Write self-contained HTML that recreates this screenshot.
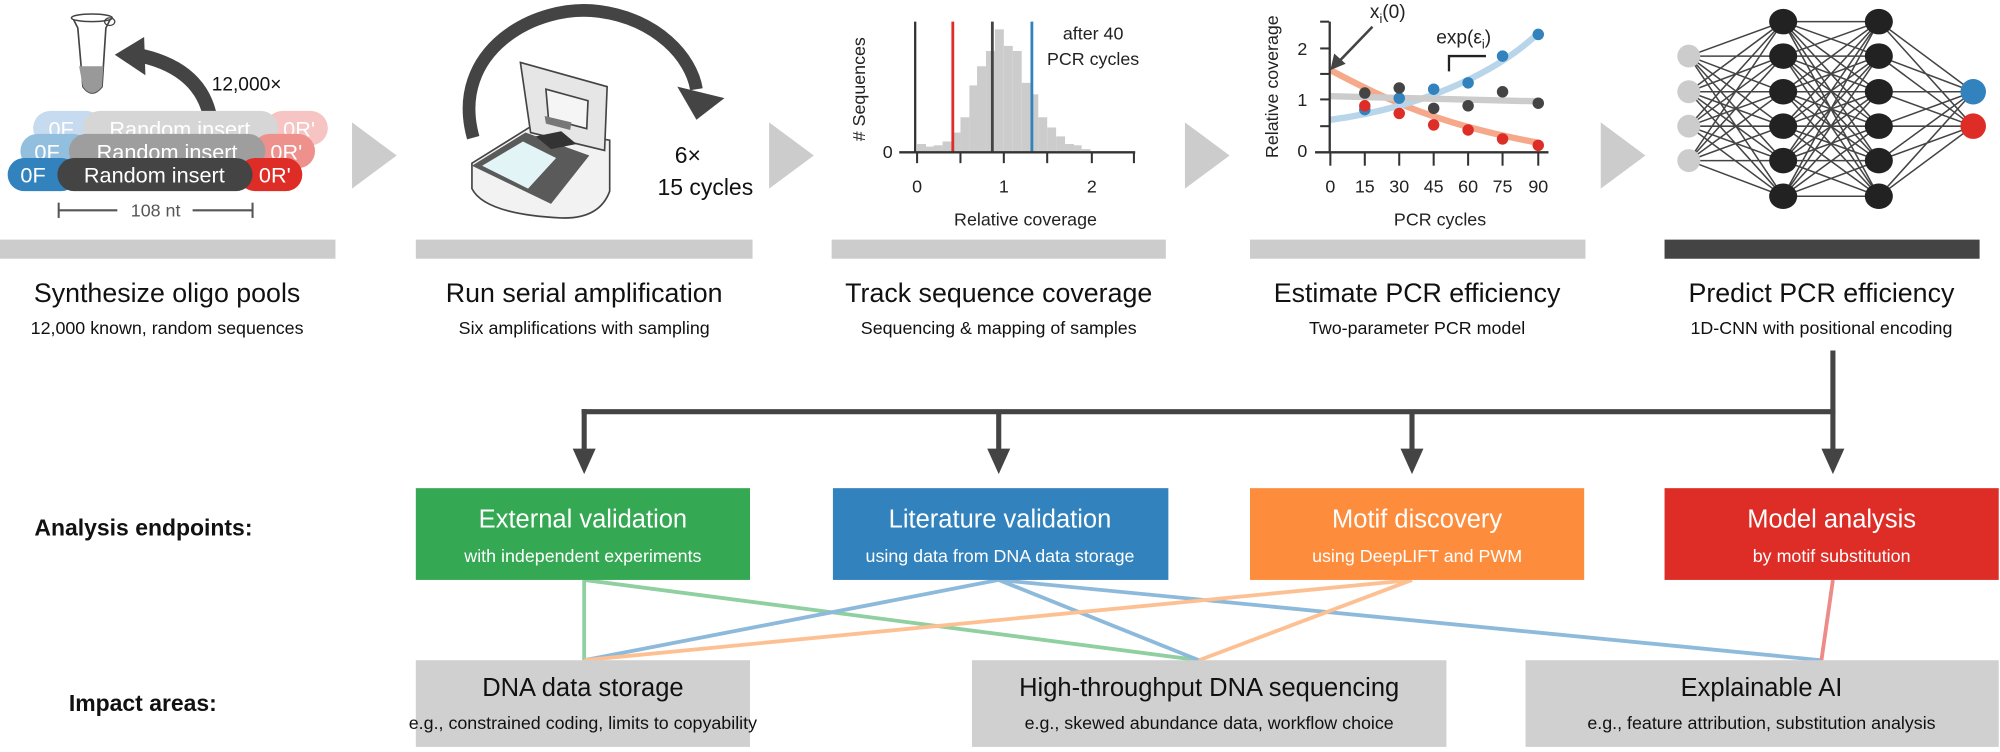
<!DOCTYPE html>
<html><head><meta charset="utf-8"><style>
html,body{margin:0;padding:0;background:#fff}
svg{display:block}
text{font-family:"Liberation Sans",Arial,sans-serif}
</style></head><body>
<svg width="2000" height="752" viewBox="0 0 1568 590" preserveAspectRatio="none" xmlns="http://www.w3.org/2000/svg">
<!-- Panel 1 -->
<g>
 <path d="M57,14 L87,14 L83,22 L80,68 Q72,78 65,68 L61,22 Z" fill="#fff" stroke="#444" stroke-width="1.3"/>
 <path d="M62,52 L81,52 L80,68 Q72,78 65,68 Z" fill="#999"/>
 <ellipse cx="72" cy="14" rx="16" ry="3" fill="#fff" stroke="#444" stroke-width="1.2"/>
 <ellipse cx="86" cy="17" rx="4" ry="3" fill="none" stroke="#444" stroke-width="1"/>
 <path d="M165,93 Q158,55 112,44" fill="none" stroke="#444" stroke-width="11"/>
 <polygon points="113,29 90,43 114,59" fill="#444"/>
 <text x="166" y="71" font-size="15" fill="#111">12,000×</text>
 <rect x="26" y="87" width="55" height="27" rx="13.5" fill="#c6dbef"/>
 <rect x="208" y="87" width="49" height="27" rx="13.5" fill="#f6c5c3"/>
 <rect x="65" y="87" width="153" height="27" rx="13.5" fill="#d6d6d6"/>
 <text x="38" y="107" font-size="17" fill="#fff">0F</text>
 <text x="141" y="107" font-size="17" fill="#fff" text-anchor="middle">Random insert</text>
 <text x="222" y="107" font-size="17" fill="#fff">0R'</text>
 <rect x="16" y="105" width="55" height="27" rx="13.5" fill="#93bfdf"/>
 <rect x="198" y="105" width="49" height="27" rx="13.5" fill="#ee908c"/>
 <rect x="54" y="105" width="154" height="27" rx="13.5" fill="#9e9e9e"/>
 <text x="27" y="125" font-size="17" fill="#fff">0F</text>
 <text x="131" y="125" font-size="17" fill="#fff" text-anchor="middle">Random insert</text>
 <text x="212" y="125" font-size="17" fill="#fff">0R'</text>
 <rect x="6" y="124" width="55" height="26" rx="13" fill="#3182bd"/>
 <rect x="187" y="124" width="50" height="26" rx="13" fill="#de2d26"/>
 <rect x="45" y="124" width="153" height="26" rx="13" fill="#444"/>
 <text x="16" y="143" font-size="17" fill="#fff">0F</text>
 <text x="121" y="143" font-size="17" fill="#fff" text-anchor="middle">Random insert</text>
 <text x="203" y="143" font-size="17" fill="#fff">0R'</text>
 <g stroke="#555" stroke-width="1.6">
  <line x1="46" y1="165" x2="92" y2="165"/><line x1="151" y1="165" x2="198" y2="165"/>
  <line x1="46" y1="159" x2="46" y2="171"/><line x1="198" y1="159" x2="198" y2="171"/>
 </g>
 <text x="122" y="170" font-size="14" fill="#555" text-anchor="middle">108 nt</text>
</g>
<!-- arrows between panels -->
<g fill="#cccccc">
 <polygon points="276,96 311,122 276,148"/>
 <polygon points="603,96 638,122 603,148"/>
 <polygon points="929,96 964,122 929,148"/>
 <polygon points="1255,96 1290,122 1255,148"/>
</g>
<!-- Panel 2 -->
<g>
 <path d="M371,108 C352,40 420,2 470,9 C515,15 542,45 546,70" fill="none" stroke="#444" stroke-width="10"/>
 <polygon points="531,68 568,77 546,94" fill="#444"/>
 <path d="M370,128 L415,100 L478,110 L478,150 Q470,172 440,171 Q380,168 370,148 Z" fill="#f2f2f2" stroke="#444" stroke-width="1.3"/>
 <path d="M408,49 L476,68 L474,118 L416,104 Z" fill="#e6e6e6" stroke="#444" stroke-width="1.3"/>
 <path d="M428,70 L461,79 L460,101 L430,93 Z" fill="#f5f5f5" stroke="#444" stroke-width="1.3"/>
 <path d="M427,91 L448,96 L447,102 L428,97 Z" fill="#777"/>
 <path d="M370,130 L412,104 L462,122 L432,160 Z" fill="#5a5a5a"/>
 <path d="M378,130 L410,111 L436,124 L414,148 Z" fill="#e3f4f6"/>
 <path d="M420,107 L440,103 L452,113 L432,117 Z" fill="#333"/>
 <text x="529" y="128" font-size="18" fill="#111">6×</text>
 <text x="553" y="153" font-size="18" fill="#111" text-anchor="middle">15 cycles</text>
</g>
<!-- Panel 3 histogram -->
<g>
 <g fill="#cccccc">
  <rect x="719" y="113" width="7" height="7"/><rect x="726" y="115" width="7" height="5"/><rect x="732" y="114" width="7" height="6"/><rect x="739" y="111" width="7" height="9"/>
  <rect x="746" y="104" width="7" height="16"/><rect x="753" y="92" width="7" height="28"/><rect x="760" y="67" width="7" height="53"/><rect x="766" y="52" width="7" height="68"/>
  <rect x="773" y="40" width="7" height="80"/><rect x="780" y="23" width="7" height="97"/><rect x="787" y="36" width="7" height="84"/><rect x="794" y="40" width="7" height="80"/>
  <rect x="801" y="65" width="7" height="55"/><rect x="807" y="74" width="7" height="46"/><rect x="814" y="92" width="7" height="28"/><rect x="821" y="100" width="7" height="20"/>
  <rect x="828" y="107" width="7" height="13"/><rect x="835" y="113" width="7" height="7"/><rect x="841" y="114" width="7" height="6"/><rect x="848" y="117" width="7" height="3"/>
 </g>
 <line x1="717.5" y1="17" x2="717.5" y2="120" stroke="#333" stroke-width="1.8"/>
 <line x1="747" y1="17" x2="747" y2="119" stroke="#de2d26" stroke-width="2.2"/>
 <line x1="778" y1="17" x2="778" y2="119" stroke="#444" stroke-width="2.2"/>
 <line x1="809" y1="17" x2="809" y2="119" stroke="#3182bd" stroke-width="2.2"/>
 <line x1="705" y1="119.5" x2="890" y2="119.5" stroke="#333" stroke-width="1.8"/>
 <g stroke="#333" stroke-width="1.6">
  <line x1="719" y1="120" x2="719" y2="128"/><line x1="753" y1="120" x2="753" y2="128"/><line x1="787" y1="120" x2="787" y2="128"/>
  <line x1="821" y1="120" x2="821" y2="128"/><line x1="856" y1="120" x2="856" y2="128"/><line x1="889" y1="120" x2="889" y2="128"/>
 </g>
 <g font-size="14" fill="#222" text-anchor="middle">
  <text x="696" y="124">0</text>
  <text x="719" y="151">0</text><text x="787" y="151">1</text><text x="856" y="151">2</text>
  <text x="804" y="177">Relative coverage</text>
  <text x="857" y="31">after 40</text><text x="857" y="51">PCR cycles</text>
  <text transform="translate(678,70) rotate(-90)">#  Sequences</text>
 </g>
</g>
<!-- Panel 4 -->
<g>
 <path d="M1043,55 C1090,80 1130,98 1206,112" fill="none" stroke="#f6a98a" stroke-width="5"/>
 <path d="M1043,94 C1110,85 1170,60 1206,26" fill="none" stroke="#b9d5ea" stroke-width="5"/>
 <path d="M1043,75.5 L1206,79.5" fill="none" stroke="#cccccc" stroke-width="5"/>
 <line x1="1042.5" y1="17" x2="1042.5" y2="120" stroke="#333" stroke-width="1.8"/>
 <line x1="1031" y1="119.5" x2="1214" y2="119.5" stroke="#333" stroke-width="1.8"/>
 <g stroke="#333" stroke-width="1.6">
  <line x1="1035" y1="17" x2="1042" y2="17"/><line x1="1035" y1="38" x2="1042" y2="38"/><line x1="1035" y1="58" x2="1042" y2="58"/>
  <line x1="1035" y1="78" x2="1042" y2="78"/><line x1="1035" y1="99" x2="1042" y2="99"/>
  <line x1="1043" y1="120" x2="1043" y2="130"/><line x1="1070" y1="120" x2="1070" y2="130"/><line x1="1097" y1="120" x2="1097" y2="130"/>
  <line x1="1124" y1="120" x2="1124" y2="130"/><line x1="1151" y1="120" x2="1151" y2="130"/><line x1="1178" y1="120" x2="1178" y2="130"/><line x1="1206" y1="120" x2="1206" y2="130"/>
 </g>
 <g fill="#3182bd"><circle cx="1070" cy="86" r="4.5"/><circle cx="1097" cy="77" r="4.5"/><circle cx="1124" cy="70" r="4.5"/><circle cx="1151" cy="65" r="4.5"/><circle cx="1178" cy="44" r="4.5"/><circle cx="1206" cy="27" r="4.5"/></g>
 <g fill="#de2d26"><circle cx="1070" cy="83" r="4.5"/><circle cx="1097" cy="89" r="4.5"/><circle cx="1124" cy="98" r="4.5"/><circle cx="1151" cy="102" r="4.5"/><circle cx="1178" cy="109" r="4.5"/><circle cx="1206" cy="114" r="4.5"/></g>
 <g fill="#444"><circle cx="1070" cy="73" r="4.5"/><circle cx="1097" cy="69" r="4.5"/><circle cx="1124" cy="85" r="4.5"/><circle cx="1151" cy="83" r="4.5"/><circle cx="1178" cy="72" r="4.5"/><circle cx="1206" cy="81" r="4.5"/></g>
 <line x1="1076" y1="21" x2="1050" y2="48" stroke="#444" stroke-width="2"/>
 <polygon points="1043,55 1046,42 1055,50" fill="#444"/>
 <path d="M1136,56 L1136,44 L1165,44" fill="none" stroke="#222" stroke-width="1.8"/>
 <g font-size="14" fill="#222" text-anchor="middle">
  <text x="1021" y="43">2</text><text x="1021" y="83">1</text><text x="1021" y="123">0</text>
  <text x="1043" y="151">0</text><text x="1070" y="151">15</text><text x="1097" y="151">30</text><text x="1124" y="151">45</text>
  <text x="1151" y="151">60</text><text x="1178" y="151">75</text><text x="1206" y="151">90</text>
  <text x="1129" y="177">PCR cycles</text>
  <text transform="translate(1002,68) rotate(-90)">Relative coverage</text>
 </g>
 <text x="1074" y="14" font-size="15" fill="#222">x<tspan font-size="10" dy="4">i</tspan><tspan dy="-4">(0)</tspan></text>
 <text x="1126" y="34" font-size="15" fill="#222">exp(ε<tspan font-size="10" dy="4">i</tspan><tspan dy="-4">)</tspan></text>
</g>
<!-- Panel 5 NN -->
<g stroke="#444" stroke-width="1.2">
 <path d="M1324,44 L1398,17 M1324,44 L1398,44 M1324,44 L1398,72 M1324,44 L1398,99 M1324,44 L1398,126 M1324,44 L1398,154
 M1324,72 L1398,17 M1324,72 L1398,44 M1324,72 L1398,72 M1324,72 L1398,99 M1324,72 L1398,126 M1324,72 L1398,154
 M1324,99 L1398,17 M1324,99 L1398,44 M1324,99 L1398,72 M1324,99 L1398,99 M1324,99 L1398,126 M1324,99 L1398,154
 M1324,126 L1398,17 M1324,126 L1398,44 M1324,126 L1398,72 M1324,126 L1398,99 M1324,126 L1398,126 M1324,126 L1398,154"/>
 <path d="M1398,17 L1473,17 M1398,17 L1473,44 M1398,17 L1473,72 M1398,17 L1473,99 M1398,17 L1473,126 M1398,17 L1473,154
 M1398,44 L1473,17 M1398,44 L1473,44 M1398,44 L1473,72 M1398,44 L1473,99 M1398,44 L1473,126 M1398,44 L1473,154
 M1398,72 L1473,17 M1398,72 L1473,44 M1398,72 L1473,72 M1398,72 L1473,99 M1398,72 L1473,126 M1398,72 L1473,154
 M1398,99 L1473,17 M1398,99 L1473,44 M1398,99 L1473,72 M1398,99 L1473,99 M1398,99 L1473,126 M1398,99 L1473,154
 M1398,126 L1473,17 M1398,126 L1473,44 M1398,126 L1473,72 M1398,126 L1473,99 M1398,126 L1473,126 M1398,126 L1473,154
 M1398,154 L1473,17 M1398,154 L1473,44 M1398,154 L1473,72 M1398,154 L1473,99 M1398,154 L1473,126 M1398,154 L1473,154"/>
 <path d="M1473,17 L1547,72 M1473,44 L1547,72 M1473,72 L1547,72 M1473,99 L1547,72 M1473,126 L1547,72 M1473,154 L1547,72
 M1473,17 L1547,99 M1473,44 L1547,99 M1473,72 L1547,99 M1473,99 L1547,99 M1473,126 L1547,99 M1473,154 L1547,99"/>
</g>
<g fill="#cccccc"><circle cx="1324" cy="44" r="9"/><circle cx="1324" cy="72" r="9"/><circle cx="1324" cy="99" r="9"/><circle cx="1324" cy="126" r="9"/></g>
<g fill="#222">
 <ellipse cx="1398" cy="17" rx="11" ry="10"/><ellipse cx="1398" cy="44" rx="11" ry="10"/><ellipse cx="1398" cy="72" rx="11" ry="10"/><ellipse cx="1398" cy="99" rx="11" ry="10"/><ellipse cx="1398" cy="126" rx="11" ry="10"/><ellipse cx="1398" cy="154" rx="11" ry="10"/>
 <ellipse cx="1473" cy="17" rx="11" ry="10"/><ellipse cx="1473" cy="44" rx="11" ry="10"/><ellipse cx="1473" cy="72" rx="11" ry="10"/><ellipse cx="1473" cy="99" rx="11" ry="10"/><ellipse cx="1473" cy="126" rx="11" ry="10"/><ellipse cx="1473" cy="154" rx="11" ry="10"/>
</g>
<ellipse cx="1547" cy="72" rx="10" ry="10" fill="#3182bd"/>
<ellipse cx="1547" cy="99" rx="10" ry="10" fill="#de2d26"/>
<!-- bars -->
<rect x="0" y="188" width="263" height="15" fill="#cccccc"/>
<rect x="326" y="188" width="264" height="15" fill="#cccccc"/>
<rect x="652" y="188" width="262" height="15" fill="#cccccc"/>
<rect x="980" y="188" width="263" height="15" fill="#cccccc"/>
<rect x="1305" y="188" width="247" height="15" fill="#444"/>
<!-- titles -->
<g text-anchor="middle" fill="#111">
 <g font-size="21">
  <text x="131" y="237">Synthesize oligo pools</text>
  <text x="458" y="237">Run serial amplification</text>
  <text x="783" y="237">Track sequence coverage</text>
  <text x="1111" y="237">Estimate PCR efficiency</text>
  <text x="1428" y="237">Predict PCR efficiency</text>
 </g>
 <g font-size="14">
  <text x="131" y="262">12,000 known, random sequences</text>
  <text x="458" y="262">Six amplifications with sampling</text>
  <text x="783" y="262">Sequencing &amp; mapping of samples</text>
  <text x="1111" y="262">Two-parameter PCR model</text>
  <text x="1428" y="262">1D-CNN with positional encoding</text>
 </g>
</g>
<!-- flow arrows -->
<g stroke="#444" stroke-width="4" fill="none">
 <line x1="1437" y1="275" x2="1437" y2="356"/>
 <line x1="456" y1="323" x2="1439" y2="323"/>
 <line x1="458" y1="321" x2="458" y2="356"/>
 <line x1="783" y1="323" x2="783" y2="356"/>
 <line x1="1107" y1="323" x2="1107" y2="356"/>
</g>
<g fill="#444">
 <polygon points="449,352 467,352 458,372"/>
 <polygon points="774,352 792,352 783,372"/>
 <polygon points="1098,352 1116,352 1107,372"/>
 <polygon points="1428,352 1446,352 1437,372"/>
</g>
<!-- connectors -->
<g stroke-width="3" fill="none" opacity="0.55">
 <line x1="458" y1="455" x2="458" y2="518" stroke="#34a853"/>
 <line x1="458" y1="455" x2="940" y2="518" stroke="#34a853"/>
 <line x1="783" y1="455" x2="458" y2="518" stroke="#3182bd"/>
 <line x1="783" y1="455" x2="940" y2="518" stroke="#3182bd"/>
 <line x1="783" y1="455" x2="1428" y2="518" stroke="#3182bd"/>
 <line x1="1107" y1="455" x2="458" y2="518" stroke="#fd8d3c"/>
 <line x1="1107" y1="455" x2="940" y2="518" stroke="#fd8d3c"/>
 <line x1="1437" y1="455" x2="1428" y2="518" stroke="#de2d26"/>
</g>
<!-- endpoints -->
<text x="27" y="420" font-size="18" font-weight="bold" fill="#111">Analysis endpoints:</text>
<rect x="326" y="383" width="262" height="72" fill="#34a853"/>
<rect x="653" y="383" width="263" height="72" fill="#3182bd"/>
<rect x="980" y="383" width="262" height="72" fill="#fd8d3c"/>
<rect x="1305" y="383" width="262" height="72" fill="#de2d26"/>
<g text-anchor="middle" fill="#fff">
 <g font-size="20">
  <text x="457" y="414">External validation</text>
  <text x="784" y="414">Literature validation</text>
  <text x="1111" y="414">Motif discovery</text>
  <text x="1436" y="414">Model analysis</text>
 </g>
 <g font-size="14">
  <text x="457" y="441">with independent experiments</text>
  <text x="784" y="441">using data from DNA data storage</text>
  <text x="1111" y="441">using DeepLIFT and PWM</text>
  <text x="1436" y="441">by motif substitution</text>
 </g>
</g>
<!-- impact -->
<text x="54" y="558" font-size="18" font-weight="bold" fill="#111">Impact areas:</text>
<rect x="326" y="518" width="262" height="68" fill="#d0d0d0"/>
<rect x="762" y="518" width="372" height="68" fill="#d0d0d0"/>
<rect x="1196" y="518" width="371" height="68" fill="#d0d0d0"/>
<g text-anchor="middle" fill="#111">
 <g font-size="20">
  <text x="457" y="546">DNA data storage</text>
  <text x="948" y="546">High-throughput DNA sequencing</text>
  <text x="1381" y="546">Explainable AI</text>
 </g>
 <g font-size="14">
  <text x="457" y="572">e.g., constrained coding, limits to copyability</text>
  <text x="948" y="572">e.g., skewed abundance data, workflow choice</text>
  <text x="1381" y="572">e.g., feature attribution, substitution analysis</text>
 </g>
</g>
</svg>
</body></html>
